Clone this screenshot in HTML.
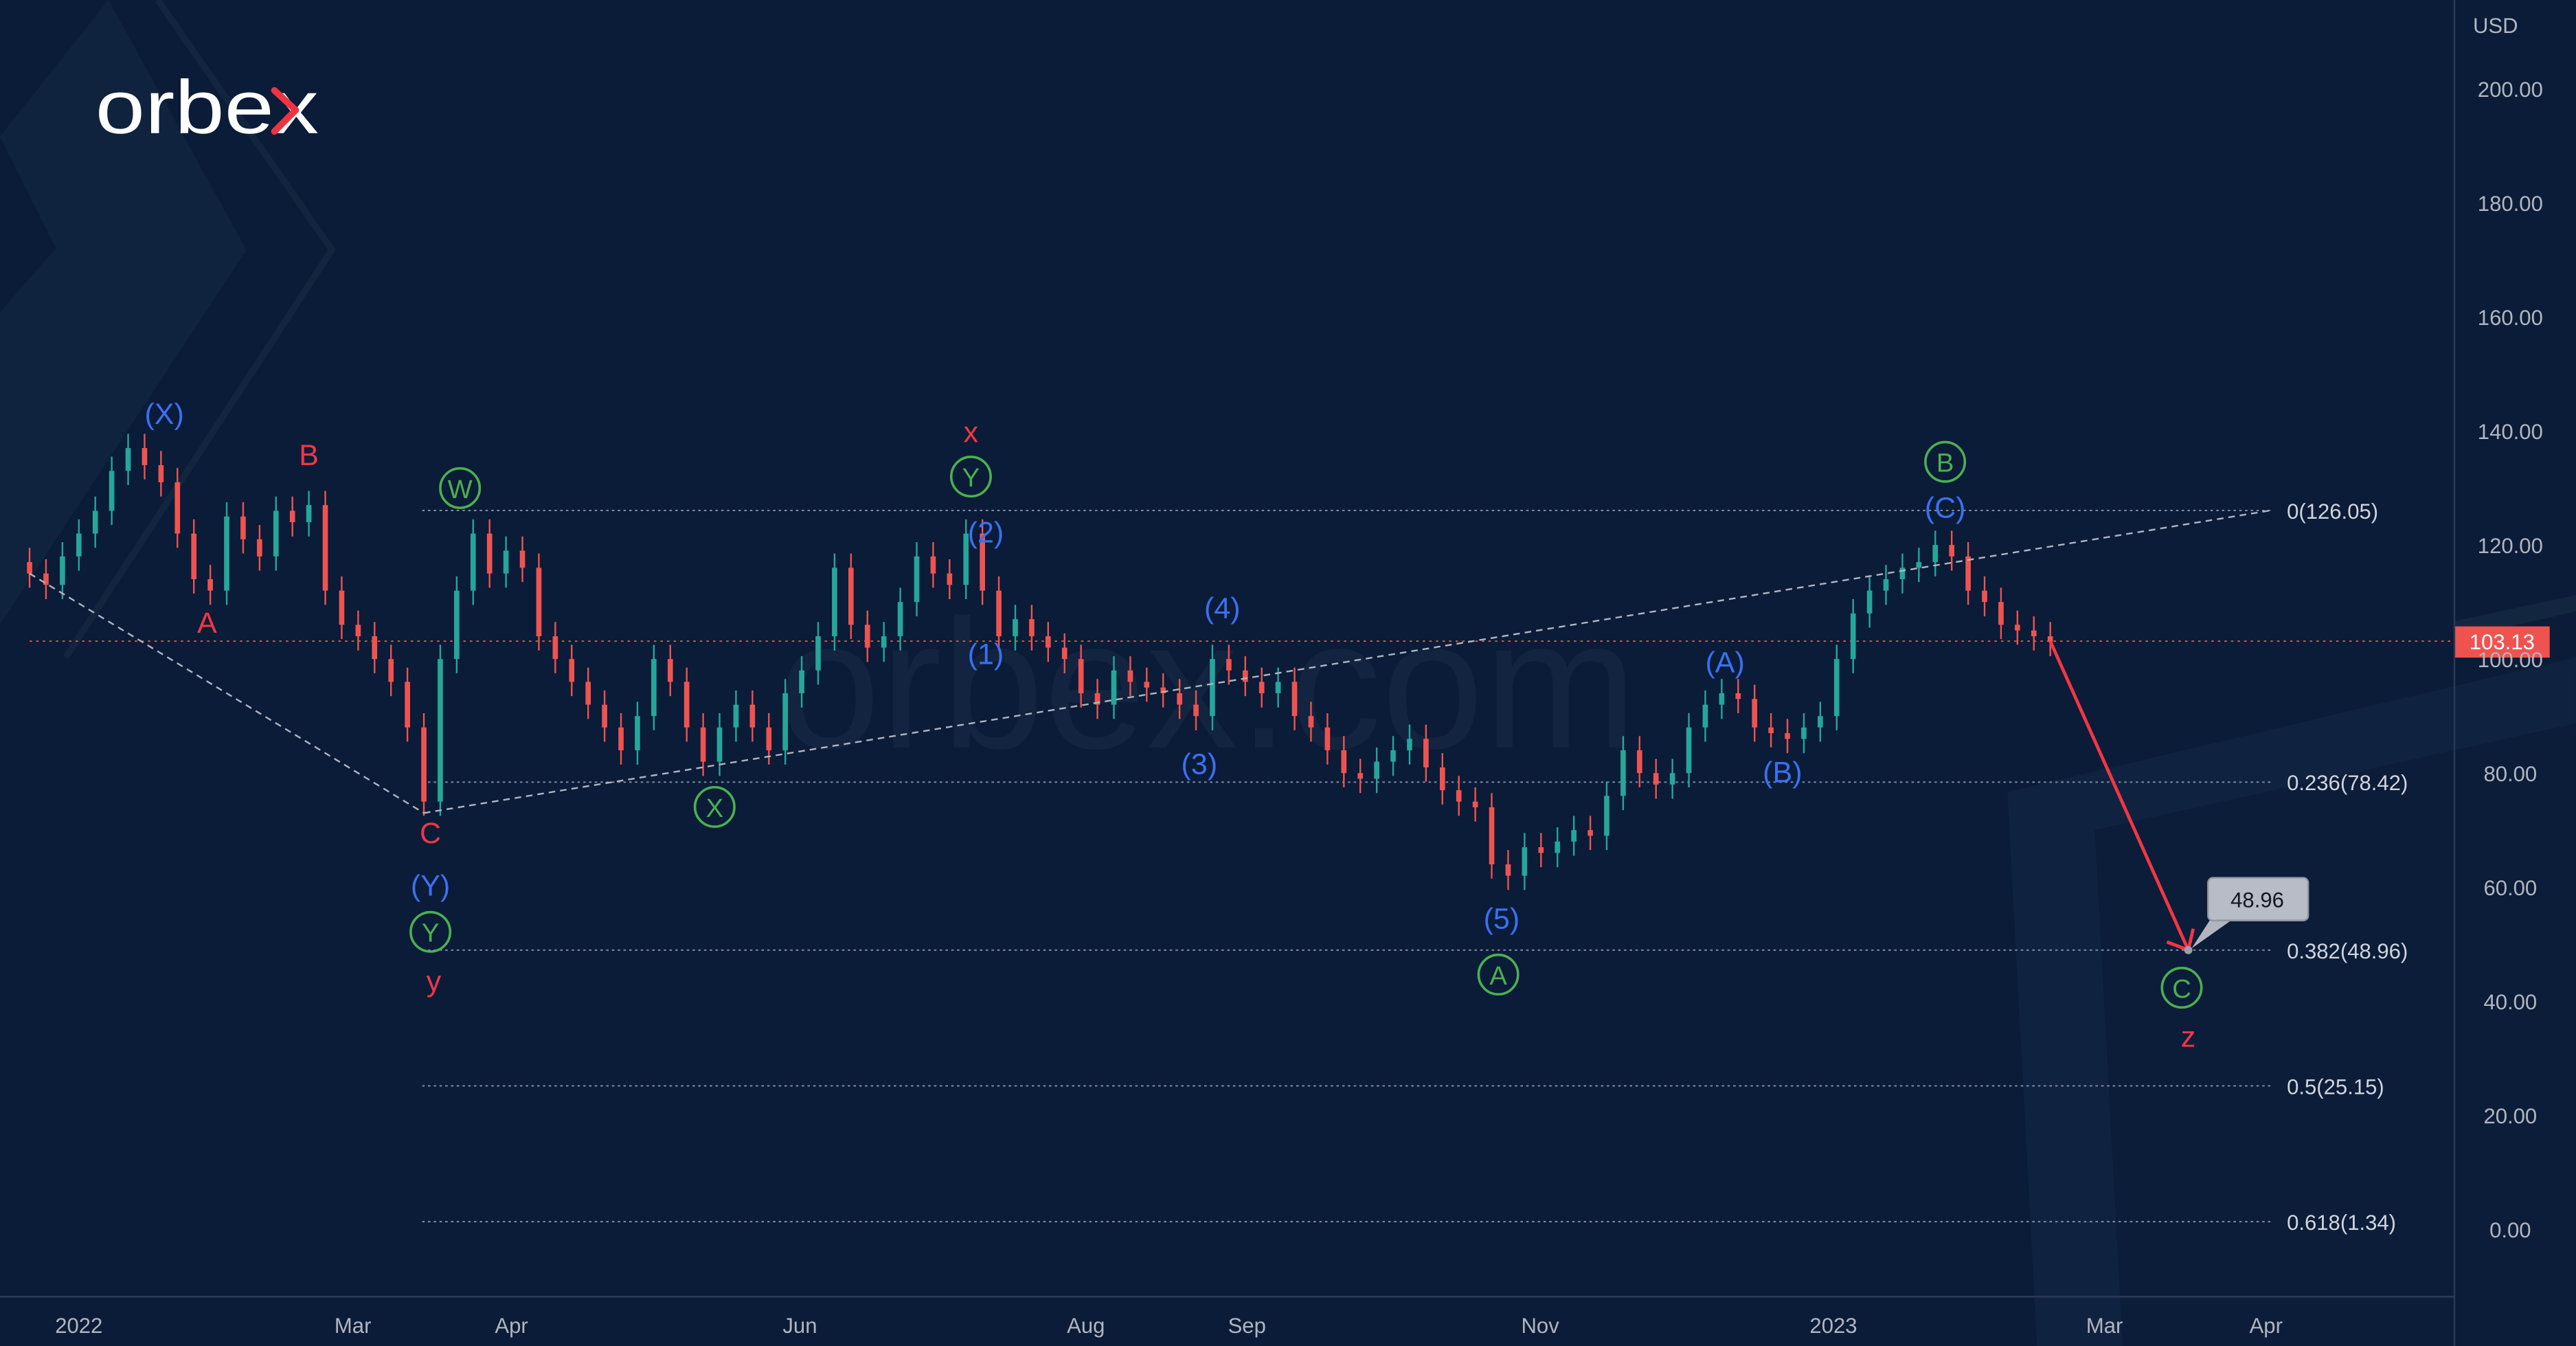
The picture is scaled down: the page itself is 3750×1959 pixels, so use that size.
<!DOCTYPE html>
<html><head><meta charset="utf-8"><style>
html,body{margin:0;padding:0;background:#0a1c38;}
svg{display:block;font-family:"Liberation Sans",sans-serif;}
</style></head><body>
<svg id="chart" width="3750" height="1959" viewBox="0 0 1568 819" preserveAspectRatio="none" xmlns="http://www.w3.org/2000/svg">
<rect x="0" y="0" width="1568" height="819" fill="#0a1c38"/>
<polygon points="66,0 150,152 0,380 0,190 34,151 0,83" fill="#0f223e"/>
<polyline points="96,0 202,152 40,400" fill="none" stroke="#12253e" stroke-width="4"/>
<polygon points="1222,482 1568,400 1568,819 1240,819" fill="#0f2340"/>
<polygon points="1275,505 1568,440 1568,819 1292,819" fill="#0b1d39"/>
<polygon points="1494,378 1568,362 1568,372 1494,389" fill="#12263f"/>
<text x="735" y="455" font-size="112" fill="#ffffff" fill-opacity="0.035" text-anchor="middle">orbex.com</text>
<g id="levels"></g>
<g id="candles"></g>
<g id="overlay"></g>
<g id="labels"></g>
<line x1="1494" y1="0" x2="1494" y2="819" stroke="#2a3a55" stroke-width="1"/>
<line x1="0" y1="789" x2="1494" y2="789" stroke="#2a3a55" stroke-width="1"/>
<text x="1519" y="20" font-size="13" fill="#b2b5be" text-anchor="middle">USD</text>
<g id="yaxis"></g>
<g id="xaxis"></g>
<g>
<text x="58" y="81" font-size="46" fill="#ffffff" textLength="136" lengthAdjust="spacingAndGlyphs">orbex</text>
<line x1="167" y1="55" x2="180" y2="67" stroke="#ef3340" stroke-width="4" stroke-linecap="round"/>
<line x1="180" y1="67" x2="167" y2="80" stroke="#ef3340" stroke-width="4" stroke-linecap="round"/>
</g>
</svg>
<script>
const closes=[115,113,118,122,126,133,137,134,131,122,114,112,125,121,118,126,124,127,112,106,104,100,96,88,75,100,112,122,115,119,116,104,100,96,92,88,84,90,100,96,88,82,88,92,88,84,94,98,104,116,106,102,104,110,118,115,113,122,112,104,107,104,102,100,94,92,98,96,95,94,92,90,100,98,96,94,96,90,88,84,80,79,82,84,86,81,77,75,74,64,62,67,66,68,70,69,76,84,80,78,80,88,92,94,93,88,87,86,88,90,100,108,112,114,116,117,120,118,112,110,106,105,104,103];
const yTicks=[200,180,160,140,120,100,80,60,40,20,0];
const xTickLabels=["2022","Mar","Apr","Jun","Aug","Sep","Nov","2023","Mar","Apr"];
const xTickDays=[0,57,90,150,209.5,243,304,365,421.4,455];
const fibLevels=[1.34,25.15,48.96,78.42,126.05];
const fibNames=["0.618(1.34)","0.5(25.15)","0.382(48.96)","0.236(78.42)","0(126.05)"];
const lastPrice=103.13;
const target=48.96;
const NS="http://www.w3.org/2000/svg";
function yS(p){return 748-p*3.47;}
function xI(i){return 18+i*10;}
function xD(d){return 48+d*2.926;}
function mk(tag,attrs,parent,txt){const e=document.createElementNS(NS,tag);for(const k in attrs)e.setAttribute(k,attrs[k]);if(txt!==undefined)e.textContent=txt;parent.appendChild(e);return e;}
const G=id=>document.getElementById(id);
yTicks.forEach(v=>{const t=mk('text',{x:1528,y:yS(v)+5,'font-size':13,fill:'#b2b5be','text-anchor':'middle'},G('yaxis'),v.toFixed(2));

});
xTickLabels.forEach((l,i)=>{const t=mk('text',{x:xD(xTickDays[i]),y:811,'font-size':13,fill:'#b2b5be','text-anchor':'middle'},G('xaxis'),l);

});
fibLevels.forEach((v,i)=>{const l=mk('line',{x1:257,y1:yS(v),x2:1382,y2:yS(v),stroke:'#8a93a6','stroke-width':0.8,'stroke-dasharray':'1.5 2'},G('levels'));


const t=mk('text',{x:1392,y:yS(v)+5,'font-size':13,fill:'#d1d4dc'},G('levels'),fibNames[i]);

});
const pl=mk('line',{x1:18,y1:yS(lastPrice),x2:1494,y2:yS(lastPrice),stroke:'#ef5350','stroke-width':0.8,'stroke-dasharray':'1.5 2.5'},G('levels'));


closes.forEach((c,i)=>{const o=i?closes[i-1]:c+2;const up=c>=o;const col=up?'#26a69a':'#ef5350';
const hi=Math.max(o,c)+2.5,lo=Math.min(o,c)-2.5;const x=xI(i);
const w=mk('line',{x1:x,y1:yS(hi),x2:x,y2:yS(lo),stroke:col,'stroke-width':1},G('candles'));


const b=mk('rect',{x:x-1.6,y:yS(Math.max(o,c)),width:3.2,height:Math.max(1,Math.abs(o-c)*3.47),fill:col},G('candles'));

});
const t1=mk('line',{x1:xI(0),y1:yS(closes[0]),x2:xI(24),y2:yS(73),stroke:'#b2b5be','stroke-width':1,'stroke-dasharray':'4 3'},G('overlay'));


const t2=mk('line',{x1:xI(24),y1:yS(73),x2:1382,y2:yS(126.05),stroke:'#b2b5be','stroke-width':1,'stroke-dasharray':'4 3'},G('overlay'));


const ax1=xI(closes.length-1),ay1=yS(lastPrice),ax2=1332,ay2=yS(target);
const ar=mk('line',{x1:ax1,y1:ay1,x2:ax2,y2:ay2,stroke:'#f23645','stroke-width':2},G('overlay'));


const ah=mk('path',{d:`M${ax2-13},${ay2-5} L${ax2},${ay2} L${ax2+3},${ay2-13}`,fill:'none',stroke:'#f23645','stroke-width':2},G('overlay'));


const dot=mk('circle',{cx:ax2,cy:ay2,r:2.5,fill:'#9aa0ab'},G('overlay'));


const cp=mk('path',{d:`M${ax2+2},${ay2-1} L1358,${yS(target)-18} L1345,${yS(target)-18} Z`,fill:'#b2b5be'},G('overlay'));


const cb=mk('rect',{x:1344,y:yS(target)-44,width:61,height:26,rx:3,fill:'#b7bcc6',stroke:'#9098a4','stroke-width':1},G('overlay'));


const ct=mk('text',{x:1374,y:yS(target)-26,'font-size':13,fill:'#131722','text-anchor':'middle'},G('overlay'),target.toFixed(2));


const pb=mk('rect',{x:1494,y:yS(lastPrice)-9,width:58,height:19,fill:'#ef5350'},G('overlay'));


const pt=mk('text',{x:1523,y:yS(lastPrice)+5,'font-size':13,fill:'#ffffff','text-anchor':'middle'},G('overlay'),lastPrice.toFixed(2));


const waveText=["(X)","B","A","C","(Y)","Y","y","W","X","x","Y","(2)","(1)","(4)","(3)","(5)","A","(A)","(B)","B","(C)","C","z"];
const waveX=[100,188,126,262,262,262,264,280,435,591,591,600,600,744,730,914,912,1050,1085,1184,1184,1328,1332];
const waveY=[252,277,379,507,539,567,597,297,491,263,290,324,398,370,465,559,593,403,470,281,309,601,631];
const waveKind=["b","r","r","r","b","g","r","g","g","r","g","b","b","b","b","b","g","b","b","g","b","g","r"];
const colMap={b:'#3d6ff0',r:'#f23645',g:'#4caf50'};
waveText.forEach((s,i)=>{const col=colMap[waveKind[i]];
if(waveKind[i]==='g'){const c=mk('circle',{cx:waveX[i],cy:waveY[i],r:12,fill:'none',stroke:col,'stroke-width':1.5},G('labels'));

}
const t=mk('text',{x:waveX[i],y:waveY[i]+6,'font-size':waveKind[i]==='g'?16:18,fill:col,'text-anchor':'middle'},G('labels'),s);

});
</script>
</body></html>
